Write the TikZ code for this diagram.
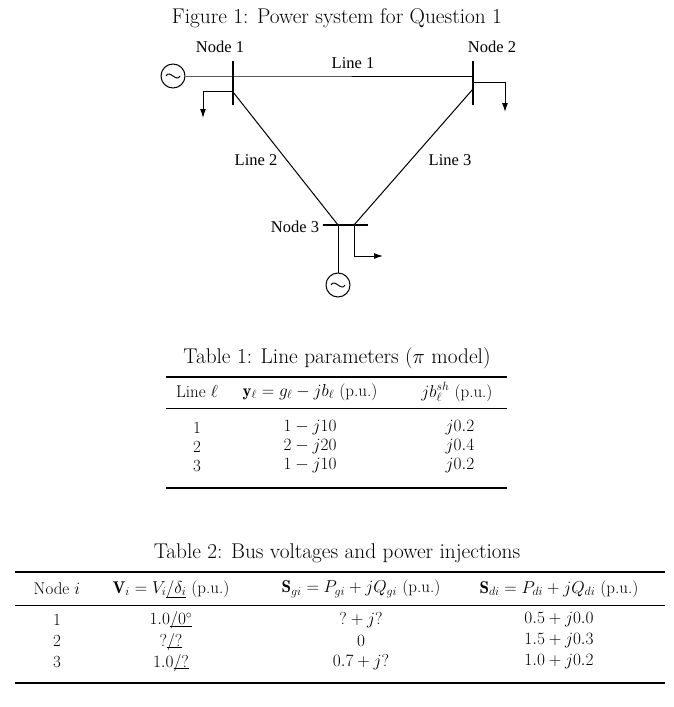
\documentclass[tikz,border=0pt]{standalone}
\usepackage{fontspec}
\newfontfamily\tms{Liberation Serif}
\usetikzlibrary{arrows.meta}
\newcommand{\phs}[1]{\underline{\smash{/}#1}}
\begin{document}
\begin{tikzpicture}[x=1pt,y=-1pt,
  wire/.style={line width=1pt},
  bus/.style={line width=1.5pt},
  load/.style={line width=1pt,-{Latex[length=9pt,width=6pt]}},
  gen/.style={circle,draw,line width=1pt,minimum size=24pt,inner sep=0pt},
  lbl/.style={font=\tms\fontsize{16.5}{18}\selectfont,inner sep=0pt},
  big/.style={font=\fontsize{21.3}{25}\selectfont,inner sep=0pt},
  tb/.style={font=\fontsize{17}{20}\selectfont,inner sep=0pt},
  heavy/.style={line width=1.5pt},
  light/.style={line width=1pt}]
\useasboundingbox (0,0) rectangle (673,707);
% Figure
\node[big] (cap1) at (337,18) {Figure 1: Power system for Question 1};
\coordinate (b1t) at (233,61); \coordinate (b1b) at (233,105);
\coordinate (b2t) at (473,61); \coordinate (b2b) at (473,105);
\coordinate (b3l) at (323,225); \coordinate (b3r) at (368,225);
\draw[bus] (b1t) -- (b1b);
\draw[bus] (b2t) -- (b2b);
\draw[bus] (b3l) -- (b3r);
\node[gen] (g1) at (173,76) {};
\draw[wire] (g1.east) -- (b1t |- g1.east) coordinate (l1a) -- (473,76) coordinate (l1b);
\draw[load] (233,91) coordinate (ld1) -- (203,91) -- (203,118);
\draw[load] (473,82) coordinate (ld2) -- (505,82) -- (505,112);
\draw[wire] (233,92) coordinate (l2a) -- (338,225) coordinate (l2b);
\draw[wire] (473,89) coordinate (l3a) -- (354,225) coordinate (l3b);
\node[gen] (g3) at (338,285) {};
\draw[wire] (l2b) -- (g3.north);
\draw[load] (l3b) -- (354,256) -- (383,256);
\draw[wire] (g1.center) +(-7,0) .. controls +(3.5,-7) and +(-3.5,7) .. +(7,0);
\draw[wire] (g3.center) +(-7,0) .. controls +(3.5,-7) and +(-3.5,7) .. +(7,0);
\node[lbl] (n1) at (220,47) {Node 1};
\node[lbl] (n2) at (492,47) {Node 2};
\node[lbl] (n3) at (295,227) {Node 3};
\node[lbl] (L1) at (353,63) {Line 1};
\node[lbl] (L2) at (256,160) {Line 2};
\node[lbl] (L3) at (450,160) {Line 3};
% Table 1
\node[big] (cap2) at (337,358) {Table 1: Line parameters ($\pi$ model)};
\draw[heavy] (166,377) -- (507,377);
\draw[light] (166,408) -- (507,408);
\draw[heavy] (166,488) -- (507,488);
\node[tb] (h11) at (197,392) {Line $\ell$};
\node[tb] (h12) at (310,392) {$\mathbf{y}_\ell=g_\ell-jb_\ell$ (p.u.)};
\node[tb] (h13) at (457,392) {$jb_\ell^{sh}$ (p.u.)};
\foreach \r/\y/\a/\b in {1/428/1-j10/j0.2, 2/447/2-j20/j0.4, 3/466/1-j10/j0.2}{
  \node[tb] (t1r\r a) at (197,\y) {\r};
  \node[tb] (t1r\r b) at (310,\y) {$\a$};
  \node[tb] (t1r\r c) at (460,\y) {$\b$};
}
% Table 2
\node[big] (cap3) at (337,553) {Table 2: Bus voltages and power injections};
\draw[heavy] (15,572) -- (665,572);
\draw[light] (15,605) -- (665,605);
\draw[heavy] (15,683) -- (665,683);
\node[tb] (h21) at (57,589) {Node $i$};
\node[tb] (h22) at (171,589) {$\mathbf{V}_i=V_i\phs{\delta_i}$ (p.u.)};
\node[tb] (h23) at (361,589) {$\mathbf{S}_{gi}=P_{gi}+jQ_{gi}$ (p.u.)};
\node[tb] (h24) at (559,589) {$\mathbf{S}_{di}=P_{di}+jQ_{di}$ (p.u.)};
\node[tb] (r1a) at (57,620) {1};
\node[tb] (r1b) at (171,620) {$1.0\phs{0^\circ}$};
\node[tb] (r1c) at (361,620) {$?+j?$};
\node[tb] (r1d) at (559,620) {$0.5+j0.0$};
\node[tb] (r2a) at (57,641) {2};
\node[tb] (r2b) at (171,641) {$?\phs{?}$};
\node[tb] (r2c) at (361,641) {$0$};
\node[tb] (r2d) at (559,641) {$1.5+j0.3$};
\node[tb] (r3a) at (57,662) {3};
\node[tb] (r3b) at (171,662) {$1.0\phs{?}$};
\node[tb] (r3c) at (361,662) {$0.7+j?$};
\node[tb] (r3d) at (559,662) {$1.0+j0.2$};
\end{tikzpicture}
\end{document}
